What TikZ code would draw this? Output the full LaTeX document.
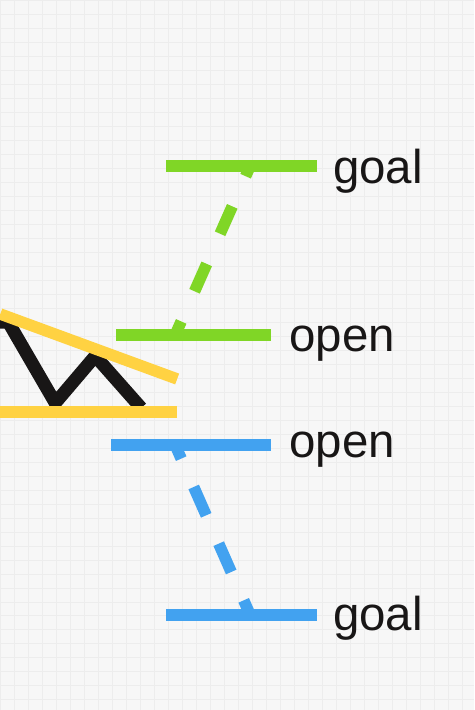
\documentclass[tikz,border=0pt]{standalone}
\usepackage{fontspec}
\setmainfont{Liberation Sans}
\usepackage{xcolor}
\usepackage{tikz}
\usetikzlibrary{positioning}

\definecolor{levelgreen}{RGB}{128,214,38}
\definecolor{levelblue}{RGB}{66,162,240}
\definecolor{trendyellow}{RGB}{255,210,66}
\definecolor{pricedark}{RGB}{24,22,22}

\begin{document}
\begin{tikzpicture}[
    x=1pt, y=-1pt,
    bar/.style = {line width=11.5pt},
    link/.style = {line width=11.5pt},
    lbl/.style = {anchor=base west, inner sep=0pt, text=pricedark,
                  font=\fontsize{47.5}{50}\selectfont}
]

% Background grid
\fill[white!97!black] (0,0) rectangle (474,710);
\draw[black!7, line width=0.6pt] (0,0) grid[step=14pt] (474,710);
\useasboundingbox (0,0) rectangle (474,710);

% Price zigzag and trend lines
\draw[pricedark, line width=13pt, line join=miter] (-4,322) -- (8,322) -- (55,403) -- (95,356) -- (141,408);
\draw[trendyellow, line width=11.5pt] (0,314) -- (177,379);
\draw[trendyellow, line width=11.5pt] (0,412) -- (177,412);

% Green levels
\coordinate (gGoalL) at (166,166);
\coordinate (gGoalR) at (317,166);
\coordinate (gGoalT) at (250,166);
\coordinate (gOpenL) at (116,335);
\coordinate (gOpenR) at (271,335);
\coordinate (gOpenT) at (175,335);
\draw[bar, levelgreen] (gGoalL) -- (gGoalR);
\draw[bar, levelgreen] (gOpenL) -- (gOpenR);
\draw[link, levelgreen, dash pattern=on 30pt off 33pt, dash phase=19pt] (gGoalT) -- (gOpenT);
\node[lbl] (gGoal) at ([xshift=16pt, yshift=-17pt]gGoalR) {goal};
\node[lbl] (gOpen) at ([xshift=18pt, yshift=-16pt]gOpenR) {open};

% Blue levels
\coordinate (bOpenL) at (111,445);
\coordinate (bOpenR) at (271,445);
\coordinate (bOpenT) at (175,445);
\coordinate (bGoalL) at (166,615);
\coordinate (bGoalR) at (317,615);
\coordinate (bGoalT) at (250,615);
\draw[bar, levelblue] (bOpenL) -- (bOpenR);
\draw[bar, levelblue] (bGoalL) -- (bGoalR);
\draw[link, levelblue, dash pattern=on 31pt off 31pt, dash phase=16pt] (bOpenT) -- (bGoalT);
\node[lbl] (bOpen) at ([xshift=18pt, yshift=-13pt]bOpenR) {open};
\node[lbl] (bGoal) at ([xshift=16pt, yshift=-16pt]bGoalR) {goal};

\end{tikzpicture}
\end{document}
